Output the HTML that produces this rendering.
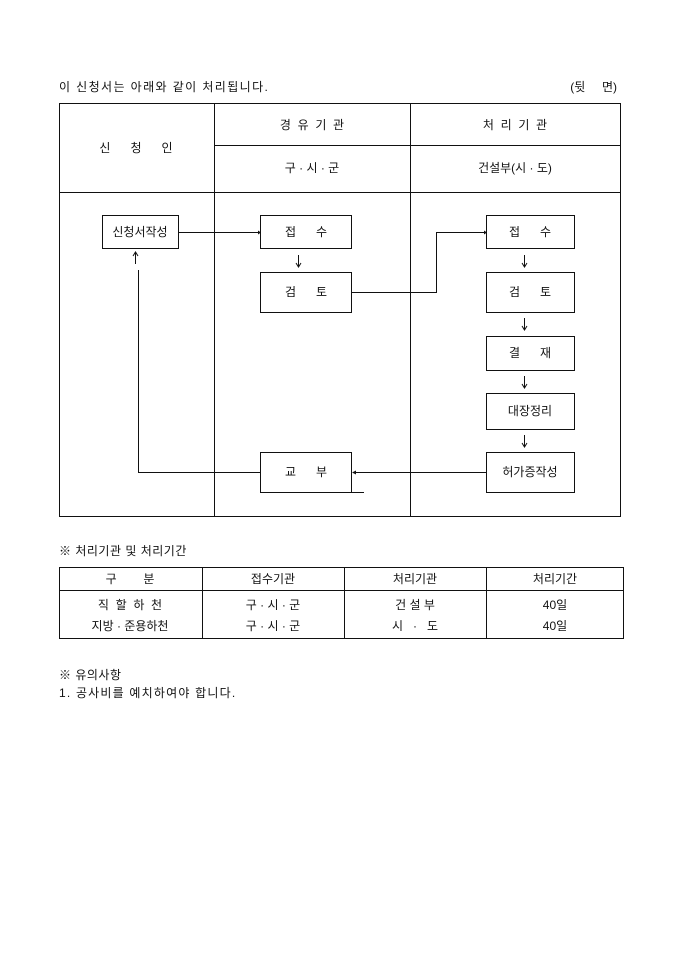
<!DOCTYPE html>
<html><head><meta charset="utf-8"><style>
body{margin:0;background:#fff;}
svg text{font-family:"Liberation Sans","Noto Sans CJK KR","NanumGothic",sans-serif;font-size:12px;fill:#111;}
</style></head><body>
<svg width="680" height="962" viewBox="0 0 680 962" xmlns="http://www.w3.org/2000/svg">
<g stroke="#111" stroke-width="1" fill="none">
<rect x="59.5" y="103.5" width="561" height="413"/>
<line x1="214.5" y1="103" x2="214.5" y2="517"/>
<line x1="410.5" y1="103" x2="410.5" y2="517"/>
<line x1="214" y1="145.5" x2="620" y2="145.5"/>
<line x1="59" y1="192.5" x2="620" y2="192.5"/>
<rect x="102.5" y="215.5" width="76" height="33"/>
<rect x="260.5" y="215.5" width="91" height="33"/>
<rect x="260.5" y="272.5" width="91" height="40"/>
<rect x="260.5" y="452.5" width="91" height="40"/>
<rect x="486.5" y="215.5" width="88" height="33"/>
<rect x="486.5" y="272.5" width="88" height="40"/>
<rect x="486.5" y="336.5" width="88" height="34"/>
<rect x="486.5" y="393.5" width="88" height="36"/>
<rect x="486.5" y="452.5" width="88" height="40"/>
<polyline points="178,232.5 258,232.5"/>
<polyline points="351,292.5 436.5,292.5 436.5,232.5 484,232.5"/>
<polyline points="486,472.5 353,472.5"/>
<polyline points="351,492.5 364,492.5"/>
<polyline points="260,472.5 138.5,472.5 138.5,270"/>
<rect x="59.5" y="567.5" width="564" height="71"/>
<line x1="59" y1="590.5" x2="624" y2="590.5"/>
<line x1="202.5" y1="567" x2="202.5" y2="639"/>
<line x1="344.5" y1="567" x2="344.5" y2="639"/>
<line x1="486.5" y1="567" x2="486.5" y2="639"/>
</g>
<g fill="#111">
<polygon points="258,230.5 258,234.5 261,232.5"/>
<polygon points="484,230.5 484,234.5 487,232.5"/>
<polygon points="356,470.5 356,474.5 352,472.5"/>
</g>
<g stroke="#111" fill="none">
<line x1="298.5" y1="255" x2="298.5" y2="266"/><polyline points="296,263 298.5,267 301,263"/>
<line x1="524.5" y1="255" x2="524.5" y2="266"/><polyline points="522,263 524.5,267 527,263"/>
<line x1="524.5" y1="318" x2="524.5" y2="329"/><polyline points="522,326 524.5,330 527,326"/>
<line x1="524.5" y1="376" x2="524.5" y2="387"/><polyline points="522,384 524.5,388 527,384"/>
<line x1="524.5" y1="435" x2="524.5" y2="446"/><polyline points="522,443 524.5,447 527,443"/>
<line x1="135.5" y1="253" x2="135.5" y2="264"/><polyline points="133,256 135.5,252 138,256"/>
</g>
<text x="59" y="91" letter-spacing="1.4">이 신청서는 아래와 같이 처리됩니다.</text>
<text x="617" y="91" text-anchor="end" xml:space="preserve">(뒷     면)</text>
<text x="136" y="152" text-anchor="middle" xml:space="preserve">신      청      인</text>
<text x="312" y="129" text-anchor="middle" xml:space="preserve">경  유  기  관</text>
<text x="515" y="129" text-anchor="middle" xml:space="preserve">처  리  기  관</text>
<text x="312" y="172" text-anchor="middle">구 · 시 · 군</text>
<text x="515" y="172" text-anchor="middle">건설부(시 · 도)</text>
<text x="140" y="236" text-anchor="middle">신청서작성</text>
<text x="306" y="236" text-anchor="middle" xml:space="preserve">접      수</text>
<text x="306" y="296" text-anchor="middle" xml:space="preserve">검      토</text>
<text x="306" y="476" text-anchor="middle" xml:space="preserve">교      부</text>
<text x="530" y="236" text-anchor="middle" xml:space="preserve">접      수</text>
<text x="530" y="296" text-anchor="middle" xml:space="preserve">검      토</text>
<text x="530" y="357" text-anchor="middle" xml:space="preserve">결      재</text>
<text x="530" y="415" text-anchor="middle">대장정리</text>
<text x="530" y="476" text-anchor="middle">허가증작성</text>
<text x="59" y="555" letter-spacing="0.5">※ 처리기관 및 처리기간</text>
<text x="130" y="583" text-anchor="middle" xml:space="preserve">구        분</text>
<text x="273" y="583" text-anchor="middle">접수기관</text>
<text x="415" y="583" text-anchor="middle">처리기관</text>
<text x="555" y="583" text-anchor="middle">처리기간</text>
<text x="130" y="609" text-anchor="middle" xml:space="preserve">직  할  하  천</text>
<text x="130" y="630" text-anchor="middle">지방 · 준용하천</text>
<text x="273" y="609" text-anchor="middle">구 · 시 · 군</text>
<text x="273" y="630" text-anchor="middle">구 · 시 · 군</text>
<text x="415" y="609" text-anchor="middle" xml:space="preserve">건 설 부</text>
<text x="415" y="630" text-anchor="middle" xml:space="preserve">시   ·   도</text>
<text x="555" y="609" text-anchor="middle">40일</text>
<text x="555" y="630" text-anchor="middle">40일</text>
<text x="59" y="679" letter-spacing="0.5">※ 유의사항</text>
<text x="59" y="697" letter-spacing="1.2">1. 공사비를 예치하여야 합니다.</text>
</svg>
</body></html>
